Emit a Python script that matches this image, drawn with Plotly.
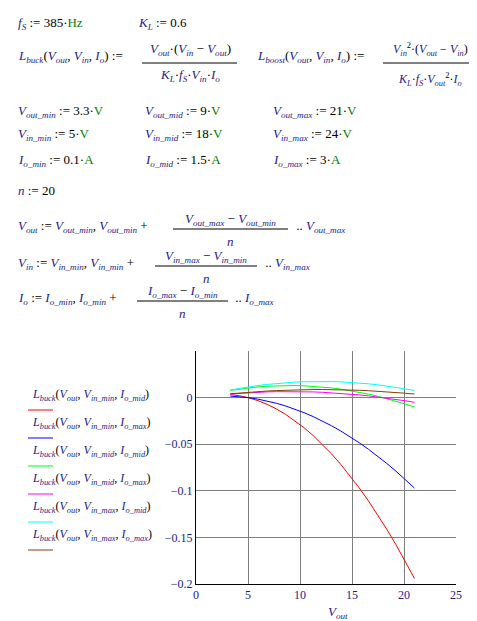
import plotly.graph_objects as go

vout = [3.3, 4.185, 5.07, 5.955, 6.84, 7.725, 8.61, 9.495, 10.38, 11.265, 12.15,
        13.035, 13.92, 14.805, 15.69, 16.575, 17.46, 18.345, 19.23, 20.115, 21.0]
l_min_mid = [0.00324, 0.00197, -0.00020, -0.00328, -0.00726, -0.01215, -0.01794, -0.02463, -0.03223, -0.04074, -0.05014,
             -0.06045, -0.07167, -0.08379, -0.09681, -0.11074, -0.12557, -0.14131, -0.15795, -0.17549, -0.19394]
l_min_max = [0.00162, 0.00098, -0.00010, -0.00164, -0.00363, -0.00608, -0.00897, -0.01232, -0.01612, -0.02037, -0.02507,
             -0.03023, -0.03584, -0.04190, -0.04841, -0.05537, -0.06279, -0.07066, -0.07898, -0.08775, -0.09697]
l_mid_mid = [0.00778, 0.00927, 0.01051, 0.01150, 0.01224, 0.01273, 0.01296, 0.01295, 0.01268, 0.01216, 0.01140,
             0.01038, 0.00911, 0.00758, 0.00581, 0.00379, 0.00151, -0.00101, -0.00379, -0.00682, -0.01010]
l_mid_max = [0.00389, 0.00464, 0.00526, 0.00575, 0.00612, 0.00637, 0.00648, 0.00648, 0.00634, 0.00608, 0.00570,
             0.00519, 0.00456, 0.00379, 0.00291, 0.00190, 0.00076, -0.00051, -0.00190, -0.00341, -0.00505]
l_max_mid = [0.00821, 0.00997, 0.01154, 0.01292, 0.01411, 0.01512, 0.01593, 0.01656, 0.01700, 0.01725, 0.01731,
             0.01719, 0.01687, 0.01637, 0.01568, 0.01480, 0.01373, 0.01248, 0.01103, 0.00940, 0.00758]
l_max_max = [0.00411, 0.00499, 0.00577, 0.00646, 0.00706, 0.00756, 0.00797, 0.00828, 0.00850, 0.00863, 0.00866,
             0.00860, 0.00844, 0.00819, 0.00784, 0.00740, 0.00687, 0.00624, 0.00552, 0.00470, 0.00379]
series = [("min", "mid", l_min_mid, "#ff0000"), ("min", "max", l_min_max, "#0000ff"),
          ("mid", "mid", l_mid_mid, "#00ff00"), ("mid", "max", l_mid_max, "#ff00ff"),
          ("max", "mid", l_max_mid, "#00ffff"), ("max", "max", l_max_max, "#804000")]
x_ticks = [0, 5, 10, 15, 20, 25]
y_ticks = [0, -0.05, -0.1, -0.15, -0.2]
y_labels = ["0", "\u22120.05", "\u22120.1", "\u22120.15", "\u22120.2"]

W, H = 477, 621
L, R, T, B = 188, 448, 343, 576
NAVY = "#1c1c8c"
FONT = "Liberation Serif, Times New Roman, serif"

fig = go.Figure()
for vi, io, ys, c in series:
    fig.add_trace(go.Scatter(x=vout, y=ys, mode="lines", line=dict(color=c, width=1), showlegend=False))

def px(x): return (x - L) / (R - L)
def py(y): return (B - y) / (B - T)

def v(name, sub=None, sup=None):
    s = f"<i>{name}</i>"
    if sub: s += f"<sub><i>{sub}</i></sub>"
    if sup: s += f"<sup>{sup}</sup>"
    return s

def k(t): return f"<span style='color:black'>{t}</span>"
def u(t): return f"<span style='color:#008000'>{t}</span>"

def text(x, y, s, anchor="left", size=13):
    fig.add_annotation(x=px(x), y=py(y), xref="paper", yref="paper", text=s, showarrow=False,
                       xanchor=anchor, yanchor="middle", font=dict(family=FONT, size=size, color=NAVY))

def hline(x0, x1, y):
    fig.add_shape(type="line", xref="paper", yref="paper", x0=px(x0), x1=px(x1), y0=py(y), y1=py(y),
                  line=dict(color="black", width=1))

D = k(" := ")
text(8, 15, v("f", "S") + D + k("385·") + u("Hz"))
text(128, 15, v("K", "L") + D + k("0.6"))

Vout, Vin, Io = v("V", "out"), v("V", "in"), v("I", "o")
text(8, 49, v("L", "buck") + k("(") + Vout + k(", ") + Vin + k(", ") + Io + k(")") + D)
text(182, 42, Vout + k("·(") + Vin + k(" − ") + Vout + k(")"), "center")
hline(134, 229, 55)
text(182, 67, v("K", "L") + k("·") + v("f", "S") + k("·") + Vin + k("·") + Io, "center")
text(247, 49, v("L", "boost") + k("(") + Vout + k(", ") + Vin + k(", ") + Io + k(")") + D)
text(422, 42, v("V", "in") + k("<sup>2</sup>·(") + Vout + k(" − ") + Vin + k(")"), "center", size=12)
hline(375, 471, 55)
text(422, 72, v("K", "L") + k("·") + v("f", "S") + k("·") + Vout + k("<sup>2</sup>·") + Io, "center", size=12)

rows = [(103, "V", "out", ["3.3", "9", "21"], "V"), (127, "V", "in", ["5", "18", "24"], "V"),
        (152, "I", "o", ["0.1", "1.5", "3"], "A")]
for y, n, s, vals, unit in rows:
    for xx, lvl, val in zip([8, 135, 263], ["min", "mid", "max"], vals):
        text(xx, y, v(n, f"{s}_{lvl}") + D + k(val + "·") + u(unit))
text(8, 182, v("n") + D + k("20"))

ranges = [(218, "V", "out", 165, 280, 283), (255, "V", "in", 147, 249, 252), (290, "I", "o", 129, 220, 222)]
for y, n, s, f0, f1, tail in ranges:
    mn, mx = v(n, f"{s}_min"), v(n, f"{s}_max")
    text(8, y, v(n, s) + D + mn + k(", ") + mn + k(" +"))
    text((f0 + f1) / 2, y - 7, mx + k(" − ") + mn, "center")
    hline(f0, f1, y + 3)
    text((f0 + f1) / 2, y + 15, v("n"), "center")
    text(tail, y, k(" .. ") + mx)

for i, (vi, io, ys, c) in enumerate(series):
    yy = 387 + 28 * i
    text(22, yy, v("L", "buck") + k("(") + Vout + k(", ") + v("V", f"in_{vi}") + k(", ") + v("I", f"o_{io}") + k(")"), size=12)
    fig.add_shape(type="line", xref="paper", yref="paper", x0=px(20), x1=px(45), y0=py(yy + 15), y1=py(yy + 15),
                  line=dict(color=c, width=1))

text(318, 604, v("V", "out"))

axis = dict(showgrid=True, gridcolor="#808080", gridwidth=1, zeroline=False, showline=True, linecolor="black",
            linewidth=1, ticks="", automargin=False, tickfont=dict(family=FONT, size=12, color=NAVY))
fig.update_xaxes(range=[0, 25], tickvals=x_ticks, **axis)
fig.update_yaxes(range=[-0.2, 0.05], tickvals=y_ticks, ticktext=y_labels, **axis)
fig.update_layout(width=W, height=H, margin=dict(l=L, r=W - R, t=T, b=H - B, autoexpand=False),
                  plot_bgcolor="white", paper_bgcolor="white", showlegend=False,
                  font=dict(family=FONT))
fig.write_html("out.html")
